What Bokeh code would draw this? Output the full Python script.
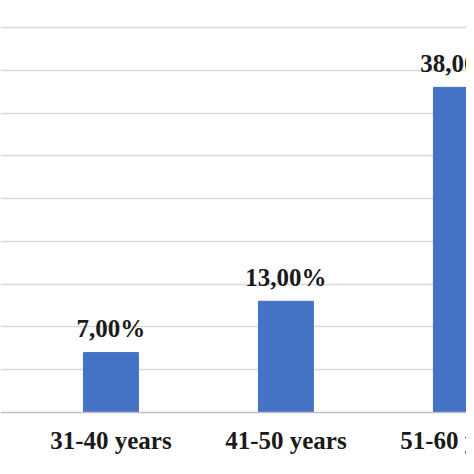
from bokeh.plotting import figure
from bokeh.models import ColumnDataSource, FixedTicker, Range1d, Span
from bokeh.core.properties import value
from bokeh.embed import file_html
from bokeh.resources import INLINE

categories = ["31-40 years", "41-50 years", "51-60 years"]
percentages = [7.0, 13.0, 38.0]
grid_ticks = [5, 10, 15, 20, 25, 30, 35, 40, 45]

idx = list(range(len(categories)))
labels = [f"{v:.2f}%".replace(".", ",") for v in percentages]
src = ColumnDataSource(dict(x=idx, y=percentages, lab=labels, cat=categories,
                            base=[0] * len(categories)))

p = figure(width=466, height=466, output_backend="svg", toolbar_location=None,
           x_range=Range1d(-0.631, 2.032), y_range=Range1d(-6.31, 48.15),
           min_border=0)
p.outline_line_color = None
p.background_fill_color = "white"
p.border_fill_color = "white"
p.xaxis.visible = False
p.yaxis.visible = False
p.xgrid.visible = False
p.ygrid.ticker = FixedTicker(ticks=grid_ticks)
p.ygrid.grid_line_color = "#d9d9d9"
p.ygrid.grid_line_width = 1.5

p.vbar(x="x", top="y", bottom="base", width=0.314, source=src, color="#4472C4")
p.add_layout(Span(location=0, dimension="width", line_color="#bfbfbf", line_width=1.5))

p.text(x="x", y="y", text="lab", source=src, text_align="center", text_baseline="alphabetic",
       y_offset=-24, text_font=value("Liberation Serif"), text_font_style="bold",
       text_font_size="25px", text_color="#1a1a1a")
p.text(x="x", y="base", text="cat", source=src, text_align="center", text_baseline="middle",
       y_offset=28, text_font=value("Liberation Serif"), text_font_style="bold",
       text_font_size="25px", text_color="#1a1a1a")

open("out.html", "w").write(file_html(p, INLINE))
